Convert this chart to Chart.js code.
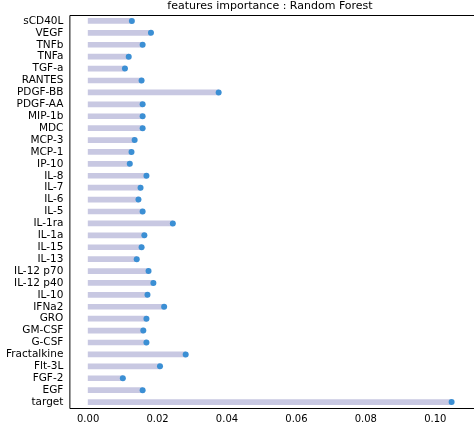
<!DOCTYPE html>
<html>
<head>
<script src="https://cdn.jsdelivr.net/npm/chart.js@4"></script>
<style>body{margin:0;background:#fff}#wrap{width:474px;height:426px}</style>
</head>
<body>
<div id="wrap"><canvas id="c"></canvas></div>
<script>
var features = ['sCD40L','VEGF','TNFb','TNFa','TGF-a','RANTES','PDGF-BB','PDGF-AA','MIP-1b','MDC','MCP-3','MCP-1','IP-10','IL-8','IL-7','IL-6','IL-5','IL-1ra','IL-1a','IL-15','IL-13','IL-12 p70','IL-12 p40','IL-10','IFNa2','GRO','GM-CSF','G-CSF','Fractalkine','Flt-3L','FGF-2','EGF','target'];
var importance = [0.0126,0.0181,0.0157,0.0117,0.0106,0.0154,0.0376,0.0157,0.0157,0.0157,0.0134,0.0125,0.012,0.0168,0.0151,0.0145,0.0157,0.0244,0.0162,0.0154,0.014,0.0174,0.0188,0.0171,0.0219,0.0168,0.0159,0.0168,0.0281,0.0207,0.01,0.0157,0.1047];
var xTicks = [0, 0.02, 0.04, 0.06, 0.08, 0.10];

var frame = {
  id: 'frame',
  afterDraw: function(chart) {
    var a = chart.chartArea, ctx = chart.ctx;
    ctx.save();
    ctx.strokeStyle = '#000';
    ctx.lineWidth = 1;
    ctx.beginPath();
    ctx.moveTo(a.right + 5, a.top + 0.5);
    ctx.lineTo(a.left + 0.5, a.top + 0.5);
    ctx.lineTo(a.left + 0.5, a.bottom + 0.5);
    ctx.lineTo(a.right + 5, a.bottom + 0.5);
    ctx.stroke();
    ctx.fillStyle = '#000';
    ctx.font = '11px "DejaVu Sans"';
    ctx.textAlign = 'center';
    ctx.textBaseline = 'top';
    ctx.fillText('features importance : Random Forest', 270, 1);
    ctx.restore();
  }
};

new Chart(document.getElementById('c'), {
  type: 'bar',
  data: {
    labels: features,
    datasets: [{
      type: 'bar',
      data: importance,
      backgroundColor: '#c8c8e2',
      barThickness: 5,
      order: 2
    }, {
      type: 'line',
      data: importance,
      showLine: false,
      pointRadius: 3,
      pointBackgroundColor: '#3b8fd4',
      pointBorderWidth: 0,
      order: 1
    }]
  },
  options: {
    indexAxis: 'y',
    responsive: true,
    maintainAspectRatio: false,
    animation: false,
    layout: {padding: {left: 4, right: 0, top: 15, bottom: 0}},
    plugins: {
      legend: {display: false},
      tooltip: {enabled: false}
    },
    scales: {
      x: {
        min: -0.0054, max: 0.11,
        afterBuildTicks: function(s) { s.ticks = xTicks.map(function(v){ return {value: v}; }); },
        grid: {display: false, drawTicks: true, tickLength: 4, tickColor: '#000'},
        border: {display: false},
        ticks: {color: '#000', font: {family: 'DejaVu Sans', size: 10}, padding: 1,
          callback: function(v){ return Number(v).toFixed(2); }}
      },
      y: {
        grid: {display: false, tickLength: 4, tickColor: '#000'},
        border: {display: false},
        ticks: {color: '#000', autoSkip: false, font: {family: 'DejaVu Sans', size: 10.5}, padding: 2}
      }
    }
  },
  plugins: [frame]
});
</script>
</body>
</html>
